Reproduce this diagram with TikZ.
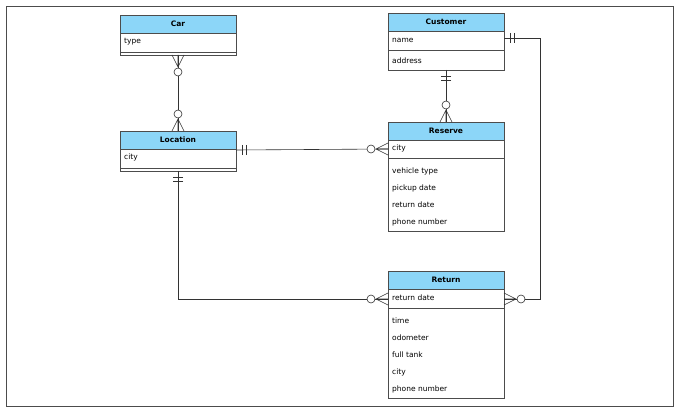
\documentclass[tikz,border=0pt]{standalone}
\usepackage{fontspec}
\setmainfont{DejaVu Sans}
\usetikzlibrary{calc}

\definecolor{headblue}{RGB}{140,214,248}
\tikzset{
    head/.style={draw=black!70,fill=headblue,minimum width=116pt,minimum height=18pt,inner sep=0pt,font=\fontsize{7.5}{9}\selectfont\bfseries},
    attr/.style={anchor=west,inner sep=0pt,font=\fontsize{7.5}{9}\selectfont},
    box/.style={draw=black!70,line width=0.6pt},
    link/.style={line width=0.6pt,black!80}
}
% many-and-optional end: at point #1, pointing away from entity with angle #2
\newcommand{\manyzero}[2]{\begin{scope}[shift={(#1)},rotate=#2]
    \draw[link] (12,0)--(0,-6) (12,0)--(0,0) (12,0)--(0,6);
    \draw[link,fill=white] (17,0) circle (4);
\end{scope}}
% exactly one end
\newcommand{\onlyone}[2]{\begin{scope}[shift={(#1)},rotate=#2]
    \draw[link] (6,-5)--(6,5) (10,-5)--(10,5);
\end{scope}}

\begin{document}
\begin{tikzpicture}[x=1pt,y=-1pt]

    \useasboundingbox (0,0) rectangle (680,411);
    \draw[black!70,fill=white] (6,6) rectangle (673,406);

    % entities
    \node[head] (car) at (178,24) {Car};
    \draw[box] (120,33) rectangle (236,55);
    \draw[box] (120,52)--(236,52);
    \node[attr] at (124,42) {type};

    \node[head] (location) at (178,140) {Location};
    \draw[box] (120,149) rectangle (236,171);
    \draw[box] (120,168)--(236,168);
    \node[attr] at (124,157) {city};

    \node[head] (customer) at (446,22) {Customer};
    \draw[box] (388,31) rectangle (504,70);
    \draw[box] (388,50)--(504,50);
    \node[attr] at (392,40) {name};
    \node[attr] at (392,61) {address};

    \node[head] (reserve) at (446,131) {Reserve};
    \draw[box] (388,140) rectangle (504,231);
    \draw[box] (388,158)--(504,158);
    \node[attr] at (392,148) {city};
    \foreach \t [count=\i] in {vehicle type,pickup date,return date,phone number}
        \node[attr] at (392,154+17*\i) {\t};

    \node[head] (return) at (446,280) {Return};
    \draw[box] (388,289) rectangle (504,398);
    \draw[box] (388,308)--(504,308);
    \node[attr] at (392,298) {return date};
    \foreach \t [count=\i] in {time,odometer,full tank,city,phone number}
        \node[attr] at (392,304+17*\i) {\t};

    % connector end points
    \coordinate (car-s) at (178,55);
    \coordinate (loc-n) at (178,131);
    \coordinate (loc-e) at (236,150);
    \coordinate (loc-s) at (178,171);
    \coordinate (res-w) at (388,149);
    \coordinate (res-n) at (446,122);
    \coordinate (cus-s) at (446,70);
    \coordinate (cus-e) at (504,38);
    \coordinate (ret-w) at (388,299);
    \coordinate (ret-e) at (504,299);

    % relationships
    \draw[link] (car-s)--(loc-n);
    \manyzero{car-s}{-90}
    \manyzero{loc-n}{90}

    \draw[link] (loc-e)--(res-w);
    \onlyone{loc-e}{0}
    \manyzero{res-w}{180}

    \draw[link] (cus-s)--(res-n);
    \onlyone{cus-s}{-90}
    \manyzero{res-n}{90}

    \draw[link] (loc-s)|-(ret-w);
    \onlyone{loc-s}{-90}
    \manyzero{ret-w}{180}

    \draw[link] (cus-e)-|(540,299)--(ret-e);
    \onlyone{cus-e}{0}
    \manyzero{ret-e}{0}
\end{tikzpicture}
\end{document}
